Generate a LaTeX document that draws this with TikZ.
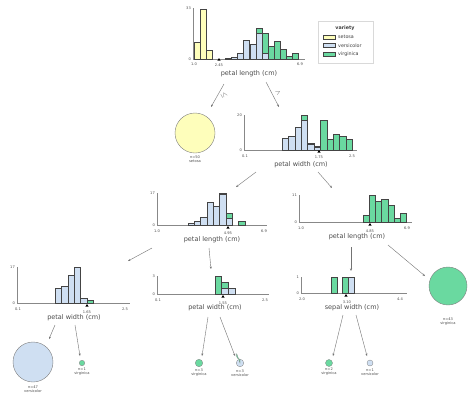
\documentclass[tikz,border=0pt]{standalone}
\usepackage{fontspec}
\setmainfont{DejaVu Sans}
\usetikzlibrary{arrows.meta}
\definecolor{seto}{HTML}{FEFEBB}
\definecolor{vers}{HTML}{CFDFF2}
\definecolor{virg}{HTML}{6AD9A0}
\definecolor{edge}{HTML}{444444}
\definecolor{axc}{HTML}{888888}
\tikzset{
 bar/.style={draw=edge,line width=0.35pt},
 ax/.style={draw=axc,line width=0.5pt},
 tick/.style={font=\fontsize{3.6}{4}\selectfont,text=black!70,inner sep=0pt},
 ttl/.style={font=\fontsize{6.5}{7}\selectfont,text=black!70,inner sep=0pt},
 lf/.style={font=\fontsize{3.6}{4}\selectfont,text=black!70,inner sep=0pt,align=center},
 con/.style={draw=black!55,line width=0.4pt,-{Stealth[length=2.5pt,width=2pt]}},
 tri/.style={fill=black,inner sep=0pt},
}
% \hb{color}{x}{ybottom}{height}{width}
\newcommand\hb[5]{\path[bar,fill=#1] (#2,#3) rectangle ++(#5,-#4);}
\newcommand\mk[2]{\fill (#1,#2) -- ++(-1.6,2.6) -- ++(3.2,0) -- cycle;}
\begin{document}
\begin{tikzpicture}[x=1pt,y=-1pt]
\useasboundingbox (0,0) rectangle (474,402);
\fill[white] (0,0) rectangle (474,402);
% ---------- root: petal length ----------
\draw[ax] (193,8) -- (193,59) -- (305,59);
\node[tick,anchor=east] at (191,8) {33};
\node[tick,anchor=east] at (191,59) {0};
\hb{seto}{194}{59}{17}{6}
\hb{seto}{200}{59}{50}{6}
\hb{seto}{206}{59}{9}{6}
\hb{vers}{225}{59}{1}{6}
\hb{vers}{231}{59}{2}{6}
\hb{vers}{237}{59}{6}{6}
\hb{vers}{243}{59}{19}{6}
\hb{vers}{250}{59}{15}{6}
\hb{vers}{256}{59}{26}{6}\hb{virg}{256}{33}{5}{6}
\hb{vers}{262}{59}{6}{6}\hb{virg}{262}{53}{20}{6}
\hb{virg}{268}{59}{13}{6}
\hb{virg}{274}{59}{18}{6}
\hb{virg}{280}{59}{10}{6}
\hb{virg}{286}{59}{3}{6}
\hb{virg}{292}{59}{6}{6}
\mk{219}{58}
\node[tick] at (194,64) {1.0};
\node[tick] at (300,64) {6.9};
\node[tick] at (219,65) {2.45};
\node[ttl] (t1) at (249,74) {petal length (cm)};
% legend
\draw[black!15,fill=white,line width=0.4pt] (318,21) rectangle (373,63);
\node[font=\bfseries\fontsize{4.8}{5}\selectfont,text=black!75,inner sep=0pt] at (345,28) {variety};
\foreach \c/\t [count=\i] in {seto/setosa,vers/versicolor,virg/virginica}{
 \path[bar,fill=\c] (323,{30+\i*8.7}) rectangle ++(12,-4);
 \node[font=\fontsize{4.8}{5}\selectfont,text=black!75,inner sep=0pt,anchor=west] at (338,{28+\i*8.7}) {\t};
}
\coordinate (r1) at (224,84); \coordinate (r1e) at (211,107);
\coordinate (r2) at (266,82); \coordinate (r2e) at (279,107);
\draw[con] (r1) -- (r1e);
\draw[con] (r2) -- (r2e);
\node[ttl,rotate=-60] at (224,95) {$\le$};
\node[ttl,rotate=30] at (278,93) {$>$};
% setosa leaf
\node[circle,draw=black!50,fill=seto,minimum size=40pt,inner sep=0pt,line width=0.4pt] (L0) at (195,133) {};
\node[lf] at (195,159) {n=50\\setosa};
% ---------- node2: petal width ----------
\draw[ax] (244,115) -- (244,150) -- (357,150);
\node[tick,anchor=east] at (242,115) {20};
\node[tick,anchor=east] at (242,150) {0};
\hb{vers}{282}{150}{12}{6.4}
\hb{vers}{288.4}{150}{14}{6.4}
\hb{vers}{294.8}{150}{23}{6.4}
\hb{vers}{301.2}{150}{30}{6.4}\hb{virg}{301.2}{120}{5}{6.4}
\hb{vers}{307.6}{150}{6}{6.4}\hb{virg}{307.6}{144}{1}{6.4}
\hb{vers}{314}{150}{3}{6.4}\hb{virg}{314}{147}{1}{6.4}
\hb{virg}{320.4}{150}{30}{6.4}
\hb{virg}{326.8}{150}{11}{6.4}
\hb{virg}{333.2}{150}{16}{6.4}
\hb{virg}{339.6}{150}{14}{6.4}
\hb{virg}{346}{150}{11}{6.4}
\mk{319}{150}
\node[tick] at (245,156) {0.1};
\node[tick] at (352,156) {2.5};
\node[tick] at (319,157) {1.75};
\node[ttl] at (301,165) {petal width (cm)};
\coordinate (a1) at (256,172); \coordinate (a1e) at (236,187);
\coordinate (a2) at (318,172); \coordinate (a2e) at (332,188);
\draw[con] (a1) -- (a1e);
\draw[con] (a2) -- (a2e);
% ---------- node3 ----------
\draw[ax] (157,193) -- (157,225) -- (267,225);
\node[tick,anchor=east] at (155,193) {17};
\node[tick,anchor=east] at (155,225) {0};
\hb{vers}{188}{225}{2}{6.3}
\hb{vers}{194.3}{225}{4}{6.3}
\hb{vers}{200.6}{225}{8}{6.3}
\hb{vers}{206.9}{225}{23}{6.3}
\hb{vers}{213.2}{225}{19}{6.3}
\hb{vers}{219.5}{225}{31}{6.3}\hb{virg}{219.5}{194}{1}{6.3}
\hb{vers}{225.8}{225}{7}{6.3}\hb{virg}{225.8}{218}{5}{6.3}
\hb{virg}{238.4}{225}{4}{6.3}
\mk{228}{226}
\node[tick] at (157,231) {1.0};
\node[tick] at (264,231) {6.9};
\node[tick] at (228,233) {4.95};
\node[ttl] at (212,240) {petal length (cm)};
% ---------- node4 ----------
\draw[ax] (299,195) -- (299,222) -- (412,222);
\node[tick,anchor=east] at (297,195) {11};
\node[tick,anchor=east] at (297,222) {0};
\hb{virg}{363}{222}{7}{6.2}
\hb{virg}{369.2}{222}{27}{6.2}
\hb{virg}{375.4}{222}{21}{6.2}
\hb{virg}{381.6}{222}{23}{6.2}
\hb{virg}{387.8}{222}{17}{6.2}
\hb{virg}{394}{222}{4}{6.2}
\hb{virg}{400.2}{222}{9}{6.2}
\mk{370}{223}
\node[tick] at (301,228) {1.0};
\node[tick] at (407,228) {6.9};
\node[tick] at (370,231) {4.85};
\node[ttl] at (357,237) {petal length (cm)};
\coordinate (b1) at (152,248); \coordinate (b1e) at (128,261);
\coordinate (b2) at (209,248); \coordinate (b2e) at (211,269);
\coordinate (c1) at (351,247); \coordinate (c1e) at (351,271);
\coordinate (c2) at (388,245); \coordinate (c2e) at (425,276);
\draw[con] (b1) -- (b1e);
\draw[con] (b2) -- (b2e);
\draw[con] (c1) -- (c1e);
\draw[con] (c2) -- (c2e);
% virginica leaf n=43
\node[circle,draw=black!50,fill=virg,minimum size=38pt,inner sep=0pt,line width=0.4pt] (L43) at (448,286) {};
\node[lf] at (448,322) {n=43\\virginica};
% ---------- node5 ----------
\draw[ax] (17,267) -- (17,303) -- (130,303);
\node[tick,anchor=east] at (15,267) {17};
\node[tick,anchor=east] at (15,303) {0};
\hb{vers}{55}{303}{15}{6.4}
\hb{vers}{61.4}{303}{17}{6.4}
\hb{vers}{67.8}{303}{28}{6.4}
\hb{vers}{74.2}{303}{36}{6.4}
\hb{vers}{80.6}{303}{5}{6.4}
\hb{virg}{87}{303}{3}{6.4}
\mk{87}{304}
\node[tick] at (18,309) {0.1};
\node[tick] at (125,309) {2.5};
\node[tick] at (87,312) {1.65};
\node[ttl] at (74,318) {petal width (cm)};
% ---------- node6 ----------
\draw[ax] (157,276) -- (157,294) -- (269,294);
\node[tick,anchor=east] at (155,276) {3};
\node[tick,anchor=east] at (155,294) {0};
\hb{virg}{215}{294}{18}{6.6}
\hb{vers}{221.6}{294}{6}{6.6}\hb{virg}{221.6}{288}{6}{6.6}
\hb{vers}{228.2}{294}{6}{6.6}
\mk{223}{295}
\node[tick] at (158,300) {0.1};
\node[tick] at (265,300) {2.5};
\node[tick] at (223,303) {1.55};
\node[ttl] at (215,308) {petal width (cm)};
% ---------- node7 ----------
\draw[ax] (301,277) -- (301,293) -- (407,293);
\node[tick,anchor=east] at (299,277) {1};
\node[tick,anchor=east] at (299,293) {0};
\hb{virg}{331}{293}{16}{6}
\hb{virg}{342}{293}{16}{6}
\hb{vers}{348}{293}{16}{6}
\mk{346}{294}
\node[tick] at (302,299) {2.0};
\node[tick] at (400,299) {4.4};
\node[tick] at (347,302) {3.10};
\node[ttl] at (352,308) {sepal width (cm)};
% bottom connectors
\coordinate (d1) at (55,325); \coordinate (d1e) at (49,339);
\coordinate (d2) at (75,325); \coordinate (d2e) at (80,356);
\coordinate (e1) at (208,317); \coordinate (e1e) at (202,356);
\coordinate (e2) at (220,317); \coordinate (e2e) at (235,356);
\coordinate (f1) at (343,315); \coordinate (f1e) at (333,356);
\coordinate (f2) at (356,315); \coordinate (f2e) at (367,356);
\foreach \s in {d1,d2,e1,e2,f1,f2}{\draw[con] (\s) -- (\s e);}
% leaves
\node[circle,draw=black!50,fill=vers,minimum size=40pt,inner sep=0pt,line width=0.4pt] (L47) at (33,362) {};
\node[lf] at (33,389) {n=47\\versicolor};
\node[circle,draw=black!50,fill=virg,minimum size=5.5pt,inner sep=0pt,line width=0.3pt] (La) at (82,363) {};
\node[lf] at (82,372) {n=1\\virginica};
\node[circle,draw=black!50,fill=virg,minimum size=7.5pt,inner sep=0pt,line width=0.3pt] (Lb) at (199,363) {};
\node[lf] at (199,373) {n=3\\virginica};
\node[circle,draw=black!50,fill=vers,minimum size=7.5pt,inner sep=0pt,line width=0.3pt] (Lc) at (240,363) {};
\fill[virg,draw=black!50,line width=0.2pt] (240,363) -- ++(0,-3.75) arc[start angle=90,end angle=210,radius=3.75] -- cycle;
\node[lf] at (240,373) {n=3\\versicolor};
\node[circle,draw=black!50,fill=virg,minimum size=7pt,inner sep=0pt,line width=0.3pt] (Ld) at (329,363) {};
\node[lf] at (329,372) {n=2\\virginica};
\node[circle,draw=black!50,fill=vers,minimum size=6pt,inner sep=0pt,line width=0.3pt] (Le) at (370,363) {};
\node[lf] at (370,372) {n=1\\versicolor};
\end{tikzpicture}
\end{document}
